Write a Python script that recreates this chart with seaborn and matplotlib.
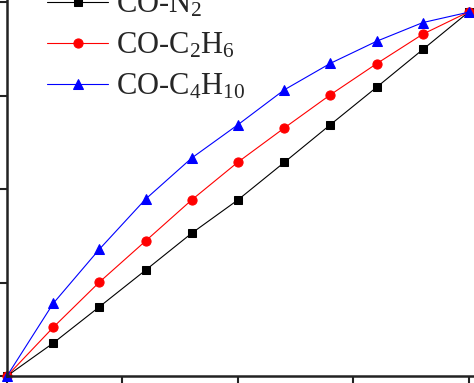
import numpy as np
import pandas as pd
import seaborn as sns
import matplotlib.pyplot as plt

# ==========================================
# DATA
# ==========================================
x_frac = [0.0, 0.1, 0.2, 0.3, 0.4, 0.5, 0.6, 0.7, 0.8, 0.9, 1.0]
co_n2 = [0.0, 0.088, 0.185, 0.283, 0.382, 0.471, 0.571, 0.672, 0.772, 0.873, 0.974]
co_c2h6 = [0.0, 0.130, 0.251, 0.361, 0.471, 0.572, 0.663, 0.752, 0.835, 0.914, 0.974]
co_c4h10 = [0.0, 0.194, 0.339, 0.473, 0.583, 0.672, 0.765, 0.836, 0.895, 0.945, 0.973]
labels = [r'CO-N$_2$', r'CO-C$_2$H$_6$', r'CO-C$_4$H$_{10}$']
x_ticks = [0.0, 0.25, 0.5, 0.75, 1.0]
y_ticks = [0.0, 0.25, 0.5, 0.75, 1.0]

# ==========================================
# THEME
# ==========================================
sns.set_style("ticks")
plt.rcParams['font.family'] = ['Liberation Serif', 'DejaVu Serif']
plt.rcParams['mathtext.fontset'] = 'custom'
plt.rcParams['mathtext.rm'] = 'Liberation Serif'
plt.rcParams['mathtext.default'] = 'regular'

W, H = 474, 383
fig = plt.figure(figsize=(W / 100, H / 100), dpi=100)

# axes origin at pixel (7, 376); the plot is cropped on top and right
ax_w, ax_h = 520, 420
ax = fig.add_axes([7 / W, 7 / H, ax_w / W, ax_h / H])

styles = [
    (co_n2, 's', 'black', 5.8),
    (co_c2h6, 'o', 'red', 6.6),
    (co_c4h10, '^', 'blue', 7.0),
]
for (vals, mk, col, ms), lab in zip(styles, labels):
    sns.lineplot(x=x_frac, y=vals, marker=mk, color=col, markersize=ms,
                 markeredgecolor=col, linewidth=0.8, label=lab, ax=ax,
                 clip_on=False)

ax.set_xlim(0, ax_w / 462)
ax.set_ylim(0, ax_h / 374)
ax.set_xticks(x_ticks)
ax.set_yticks(y_ticks)
ax.set_xticklabels([])
ax.set_yticklabels([])
ax.tick_params(direction='out', length=8, width=1.5, color='#222222')
for side in ['left', 'bottom']:
    ax.spines[side].set_linewidth(1.8)
    ax.spines[side].set_color('#222222')
ax.spines['top'].set_visible(False)
ax.spines['right'].set_visible(False)
ax.set_xlabel('')
ax.set_ylabel('')

ax.legend(loc='upper left', bbox_to_anchor=(35 / W, 1 + 22 / H),
          bbox_transform=fig.transFigure, frameon=False, fontsize=22,
          handlelength=2.0, handletextpad=0.25, labelspacing=0.38,
          borderaxespad=0)

fig.savefig('out.png', dpi=100)
